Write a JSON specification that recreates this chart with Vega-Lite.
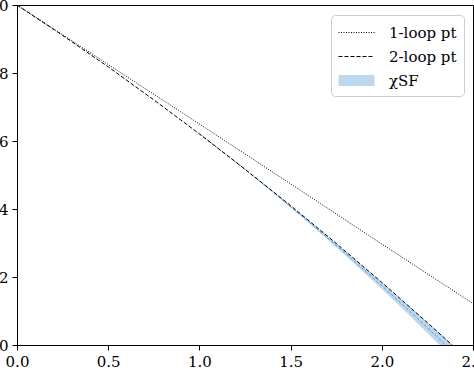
{
  "$schema": "https://vega.github.io/schema/vega-lite/v6.json",
  "autosize": "none",
  "width": 456,
  "height": 340,
  "padding": {"left": 17, "top": 5, "right": 1, "bottom": 25},
  "background": "white",
  "config": {
    "view": {"stroke": "black", "strokeWidth": 1},
    "axis": {
      "labelFont": "DejaVu Serif",
      "labelFontSize": 15,
      "labelColor": "black",
      "domainColor": "black",
      "tickColor": "black",
      "tickSize": 5,
      "labelPadding": 4,
      "labelFlush": false,
      "labelOverlap": false,
      "grid": false,
      "title": null
    },
    "axisX": {"labelPadding": 4}
  },
  "datasets": {
    "lines": [
      {"x": 0.0, "y": 10.0, "series": "1-loop pt"},
      {"x": 0.5, "y": 8.25, "series": "1-loop pt"},
      {"x": 1.0, "y": 6.5, "series": "1-loop pt"},
      {"x": 1.5, "y": 4.74, "series": "1-loop pt"},
      {"x": 2.0, "y": 2.97, "series": "1-loop pt"},
      {"x": 2.5, "y": 1.22, "series": "1-loop pt"},
      {"x": 0.0, "y": 10.0, "series": "2-loop pt"},
      {"x": 0.25, "y": 9.107, "series": "2-loop pt"},
      {"x": 0.5, "y": 8.18, "series": "2-loop pt"},
      {"x": 0.75, "y": 7.21, "series": "2-loop pt"},
      {"x": 1.0, "y": 6.21, "series": "2-loop pt"},
      {"x": 1.25, "y": 5.17, "series": "2-loop pt"},
      {"x": 1.5, "y": 4.10, "series": "2-loop pt"},
      {"x": 1.75, "y": 2.99, "series": "2-loop pt"},
      {"x": 2.0, "y": 1.84, "series": "2-loop pt"},
      {"x": 2.25, "y": 0.657, "series": "2-loop pt"},
      {"x": 2.4, "y": -0.07, "series": "2-loop pt"}
    ],
    "band": [
      {"x": 1.0, "lo": 6.21, "mid": 6.21, "hi": 6.21},
      {"x": 1.2, "lo": 5.374, "mid": 5.378, "hi": 5.382},
      {"x": 1.4, "lo": 4.501, "mid": 4.517, "hi": 4.532},
      {"x": 1.6, "lo": 3.589, "mid": 3.623, "hi": 3.658},
      {"x": 1.8, "lo": 2.637, "mid": 2.699, "hi": 2.76},
      {"x": 2.0, "lo": 1.648, "mid": 1.744, "hi": 1.84},
      {"x": 2.1, "lo": 1.138, "mid": 1.255, "hi": 1.371},
      {"x": 2.2, "lo": 0.619, "mid": 0.758, "hi": 0.896},
      {"x": 2.3, "lo": 0.091, "mid": 0.254, "hi": 0.416},
      {"x": 2.39, "lo": -0.392, "mid": -0.206, "hi": -0.02}
    ]
  },
  "layer": [
    {
      "data": {"name": "band"},
      "mark": {"type": "area", "clip": true, "color": "#bdd7ee", "opacity": 1},
      "encoding": {
        "x": {"field": "x", "type": "quantitative", "scale": {"domain": [0, 2.5], "nice": false},
              "axis": {"values": [0, 0.5, 1.0, 1.5, 2.0, 2.5], "format": ".1f"}},
        "y": {"field": "lo", "type": "quantitative", "scale": {"domain": [0, 10], "nice": false},
              "axis": {"values": [0, 2, 4, 6, 8, 10], "format": "d"}},
        "y2": {"field": "hi"}
      }
    },
    {
      "data": {"name": "band"},
      "mark": {"type": "line", "clip": true, "color": "#5a9bd0", "strokeWidth": 1, "strokeDash": [3, 2]},
      "encoding": {
        "x": {"field": "x", "type": "quantitative"},
        "y": {"field": "mid", "type": "quantitative"}
      }
    },
    {
      "data": {"name": "lines"},
      "mark": {"type": "line", "clip": true, "color": "black", "strokeWidth": 1},
      "encoding": {
        "x": {"field": "x", "type": "quantitative"},
        "y": {"field": "y", "type": "quantitative"},
        "strokeDash": {
          "field": "series",
          "type": "nominal",
          "scale": {"domain": ["1-loop pt", "2-loop pt", "χSF"], "range": [[1, 1.5], [4, 2], [1, 0]]},
          "legend": {
            "title": null,
            "orient": "none",
            "legendX": 314,
            "legendY": 10,
            "labelFont": "DejaVu Serif",
            "labelFontSize": 15,
            "labelColor": "black",
            "symbolType": "stroke",
            "symbolSize": 400,
            "symbolStrokeWidth": 1,
            "symbolStrokeColor": "black",
            "symbolOffset": 8,
            "labelOffset": 22,
            "rowPadding": 5,
            "padding": 7,
            "strokeColor": "#cccccc",
            "fillColor": "white",
            "cornerRadius": 4,
            "encode": {
              "symbols": {
                "update": {
                  "shape": {"signal": "datum.value === 'χSF' ? 'M-1.8,-0.55H1.8V0.55H-1.8Z' : 'M-1.8,0H1.8'"},
                  "fill": {"signal": "datum.value === 'χSF' ? '#bdd7ee' : 'transparent'"},
                  "stroke": {"signal": "datum.value === 'χSF' ? 'transparent' : 'black'"},
                  "opacity": {"value": 1}
                }
              }
            }
          }
        }
      }
    }
  ]
}
